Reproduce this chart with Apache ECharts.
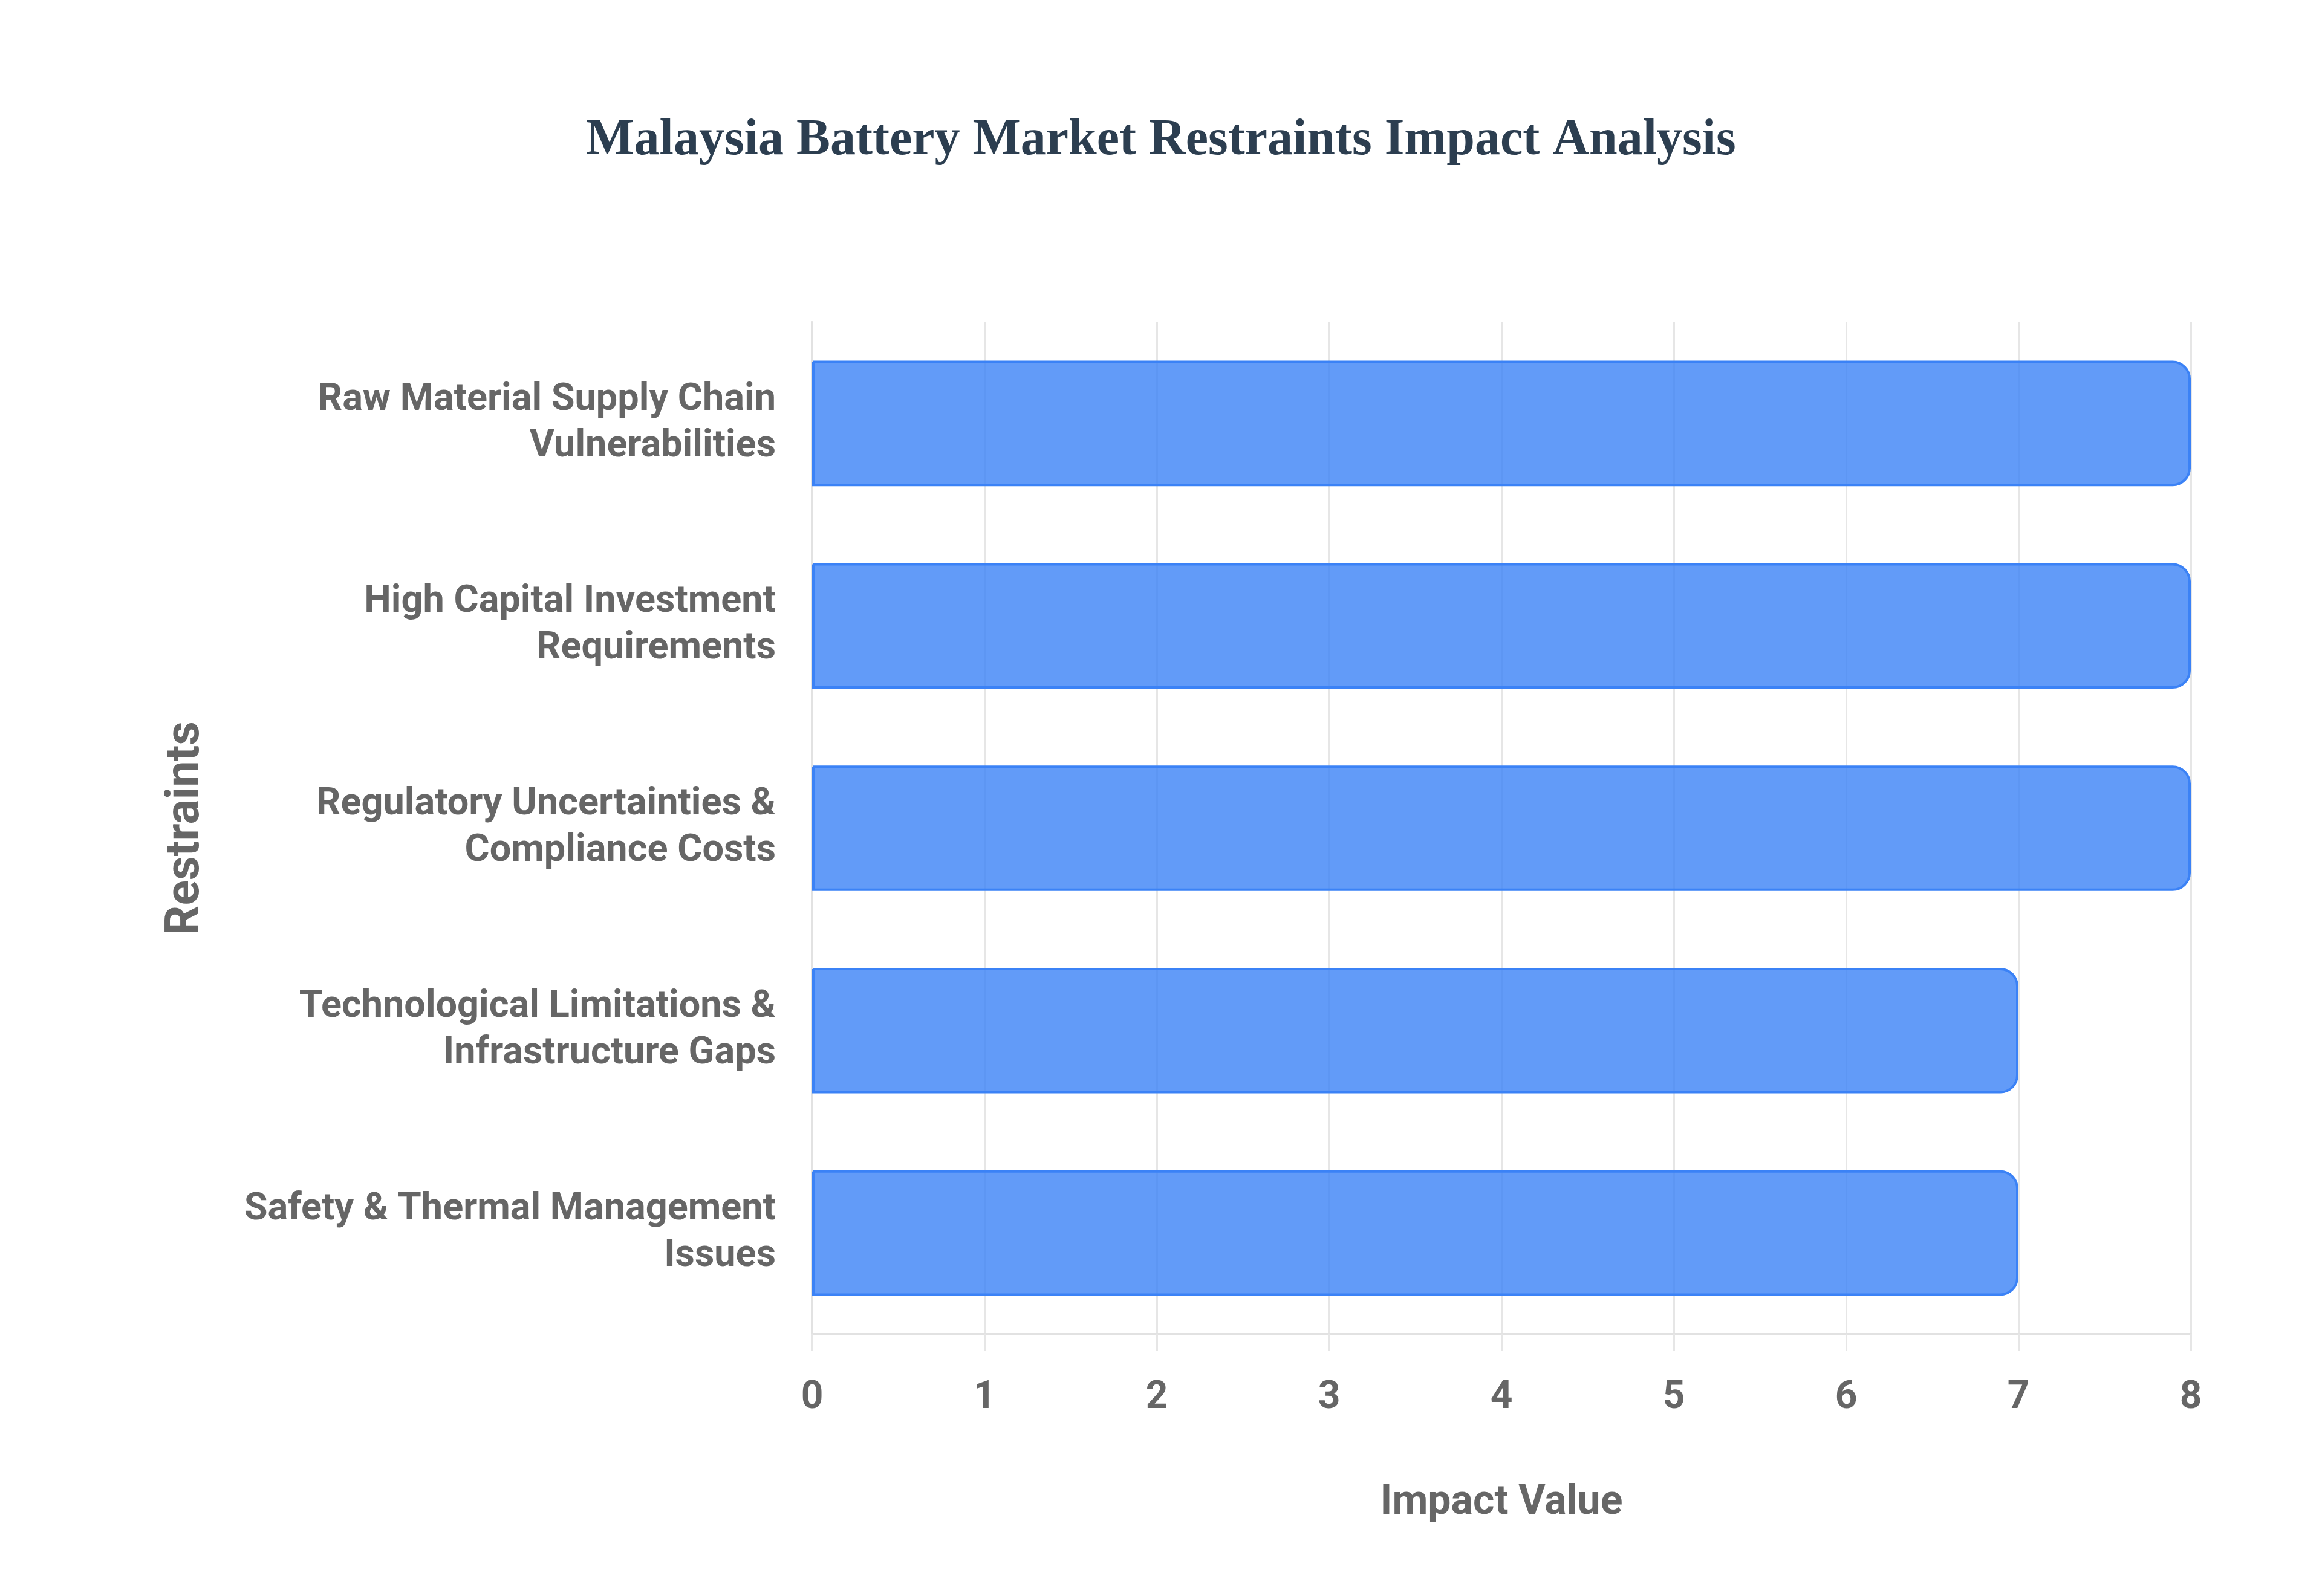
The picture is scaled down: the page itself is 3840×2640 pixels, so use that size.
<!DOCTYPE html>
<html>
<head>
<meta charset="utf-8">
<script src="https://cdn.jsdelivr.net/npm/echarts@6/dist/echarts.min.js"></script>
<style>
  html, body { margin: 0; padding: 0; background: #ffffff; }
  #chart { width: 3840px; height: 2640px; }
</style>
</head>
<body>
<div id="chart"></div>
<script>
const titleText = 'Malaysia Battery Market Restraints Impact Analysis';
const categories = [
  'Raw Material Supply Chain Vulnerabilities',
  'High Capital Investment Requirements',
  'Regulatory Uncertainties & Compliance Costs',
  'Technological Limitations & Infrastructure Gaps',
  'Safety & Thermal Management Issues'
];
const impactValues = [8, 8, 8, 7, 7];
const xAxisName = 'Impact Value';
const yAxisName = 'Restraints';

function wrapLabel(text, maxChars) {
  const words = text.split(' ');
  const lines = [];
  let cur = '';
  words.forEach(w => {
    const next = cur ? cur + ' ' + w : w;
    if (next.length > maxChars && cur) { lines.push(cur); cur = w; }
    else { cur = next; }
  });
  if (cur) lines.push(cur);
  return lines.join('\n');
}

const chart = echarts.init(document.getElementById('chart'), null, { renderer: 'canvas', devicePixelRatio: 1 });
const labelFont = 'Roboto, "Liberation Sans", Arial, sans-serif';
chart.setOption({
  backgroundColor: '#ffffff',
  animation: false,
  title: {
    text: titleText,
    left: 'center',
    top: 186,
    textStyle: {
      fontFamily: '"Liberation Serif", "Times New Roman", serif',
      fontSize: 84,
      fontWeight: 'bold',
      color: '#2c3e50'
    }
  },
  grid: { left: 1343, right: 217, top: 533, bottom: 433, containLabel: false },
  xAxis: {
    type: 'value',
    min: 0,
    max: 8,
    interval: 1,
    name: xAxisName,
    nameLocation: 'middle',
    nameGap: 246,
    nameTextStyle: { fontFamily: labelFont, fontSize: 68, fontWeight: 'bold', color: '#666666' },
    axisLine: { show: true, lineStyle: { color: '#e2e2e2', width: 4 } },
    axisTick: { show: true, length: 28, lineStyle: { color: '#e6e6e6', width: 3 } },
    splitLine: { show: true, lineStyle: { color: '#e6e6e6', width: 3 } },
    axisLabel: { fontFamily: labelFont, fontSize: 64, fontWeight: 'bold', color: '#666666', margin: 74, lineHeight: 64 }
  },
  yAxis: {
    type: 'category',
    inverse: true,
    data: categories,
    name: yAxisName,
    nameLocation: 'middle',
    nameGap: 996,
    nameRotate: 90,
    nameTextStyle: { fontFamily: labelFont, fontSize: 77, fontWeight: 'bold', color: '#666666' },
    axisLine: { show: true, lineStyle: { color: '#e2e2e2', width: 4 } },
    axisTick: { show: false },
    splitLine: { show: false },
    axisLabel: {
      fontFamily: labelFont, fontSize: 63, fontWeight: 'bold', color: '#666666',
      margin: 60, lineHeight: 77, align: 'right',
      formatter: v => wrapLabel(v, 27)
    }
  },
  series: [{
    type: 'bar',
    data: impactValues,
    barWidth: '62%',
    itemStyle: {
      color: 'rgba(59,130,246,0.8)',
      borderColor: '#3b82f6',
      borderWidth: 4,
      borderRadius: [0, 28, 28, 0]
    }
  }]
});
</script>
</body>
</html>
